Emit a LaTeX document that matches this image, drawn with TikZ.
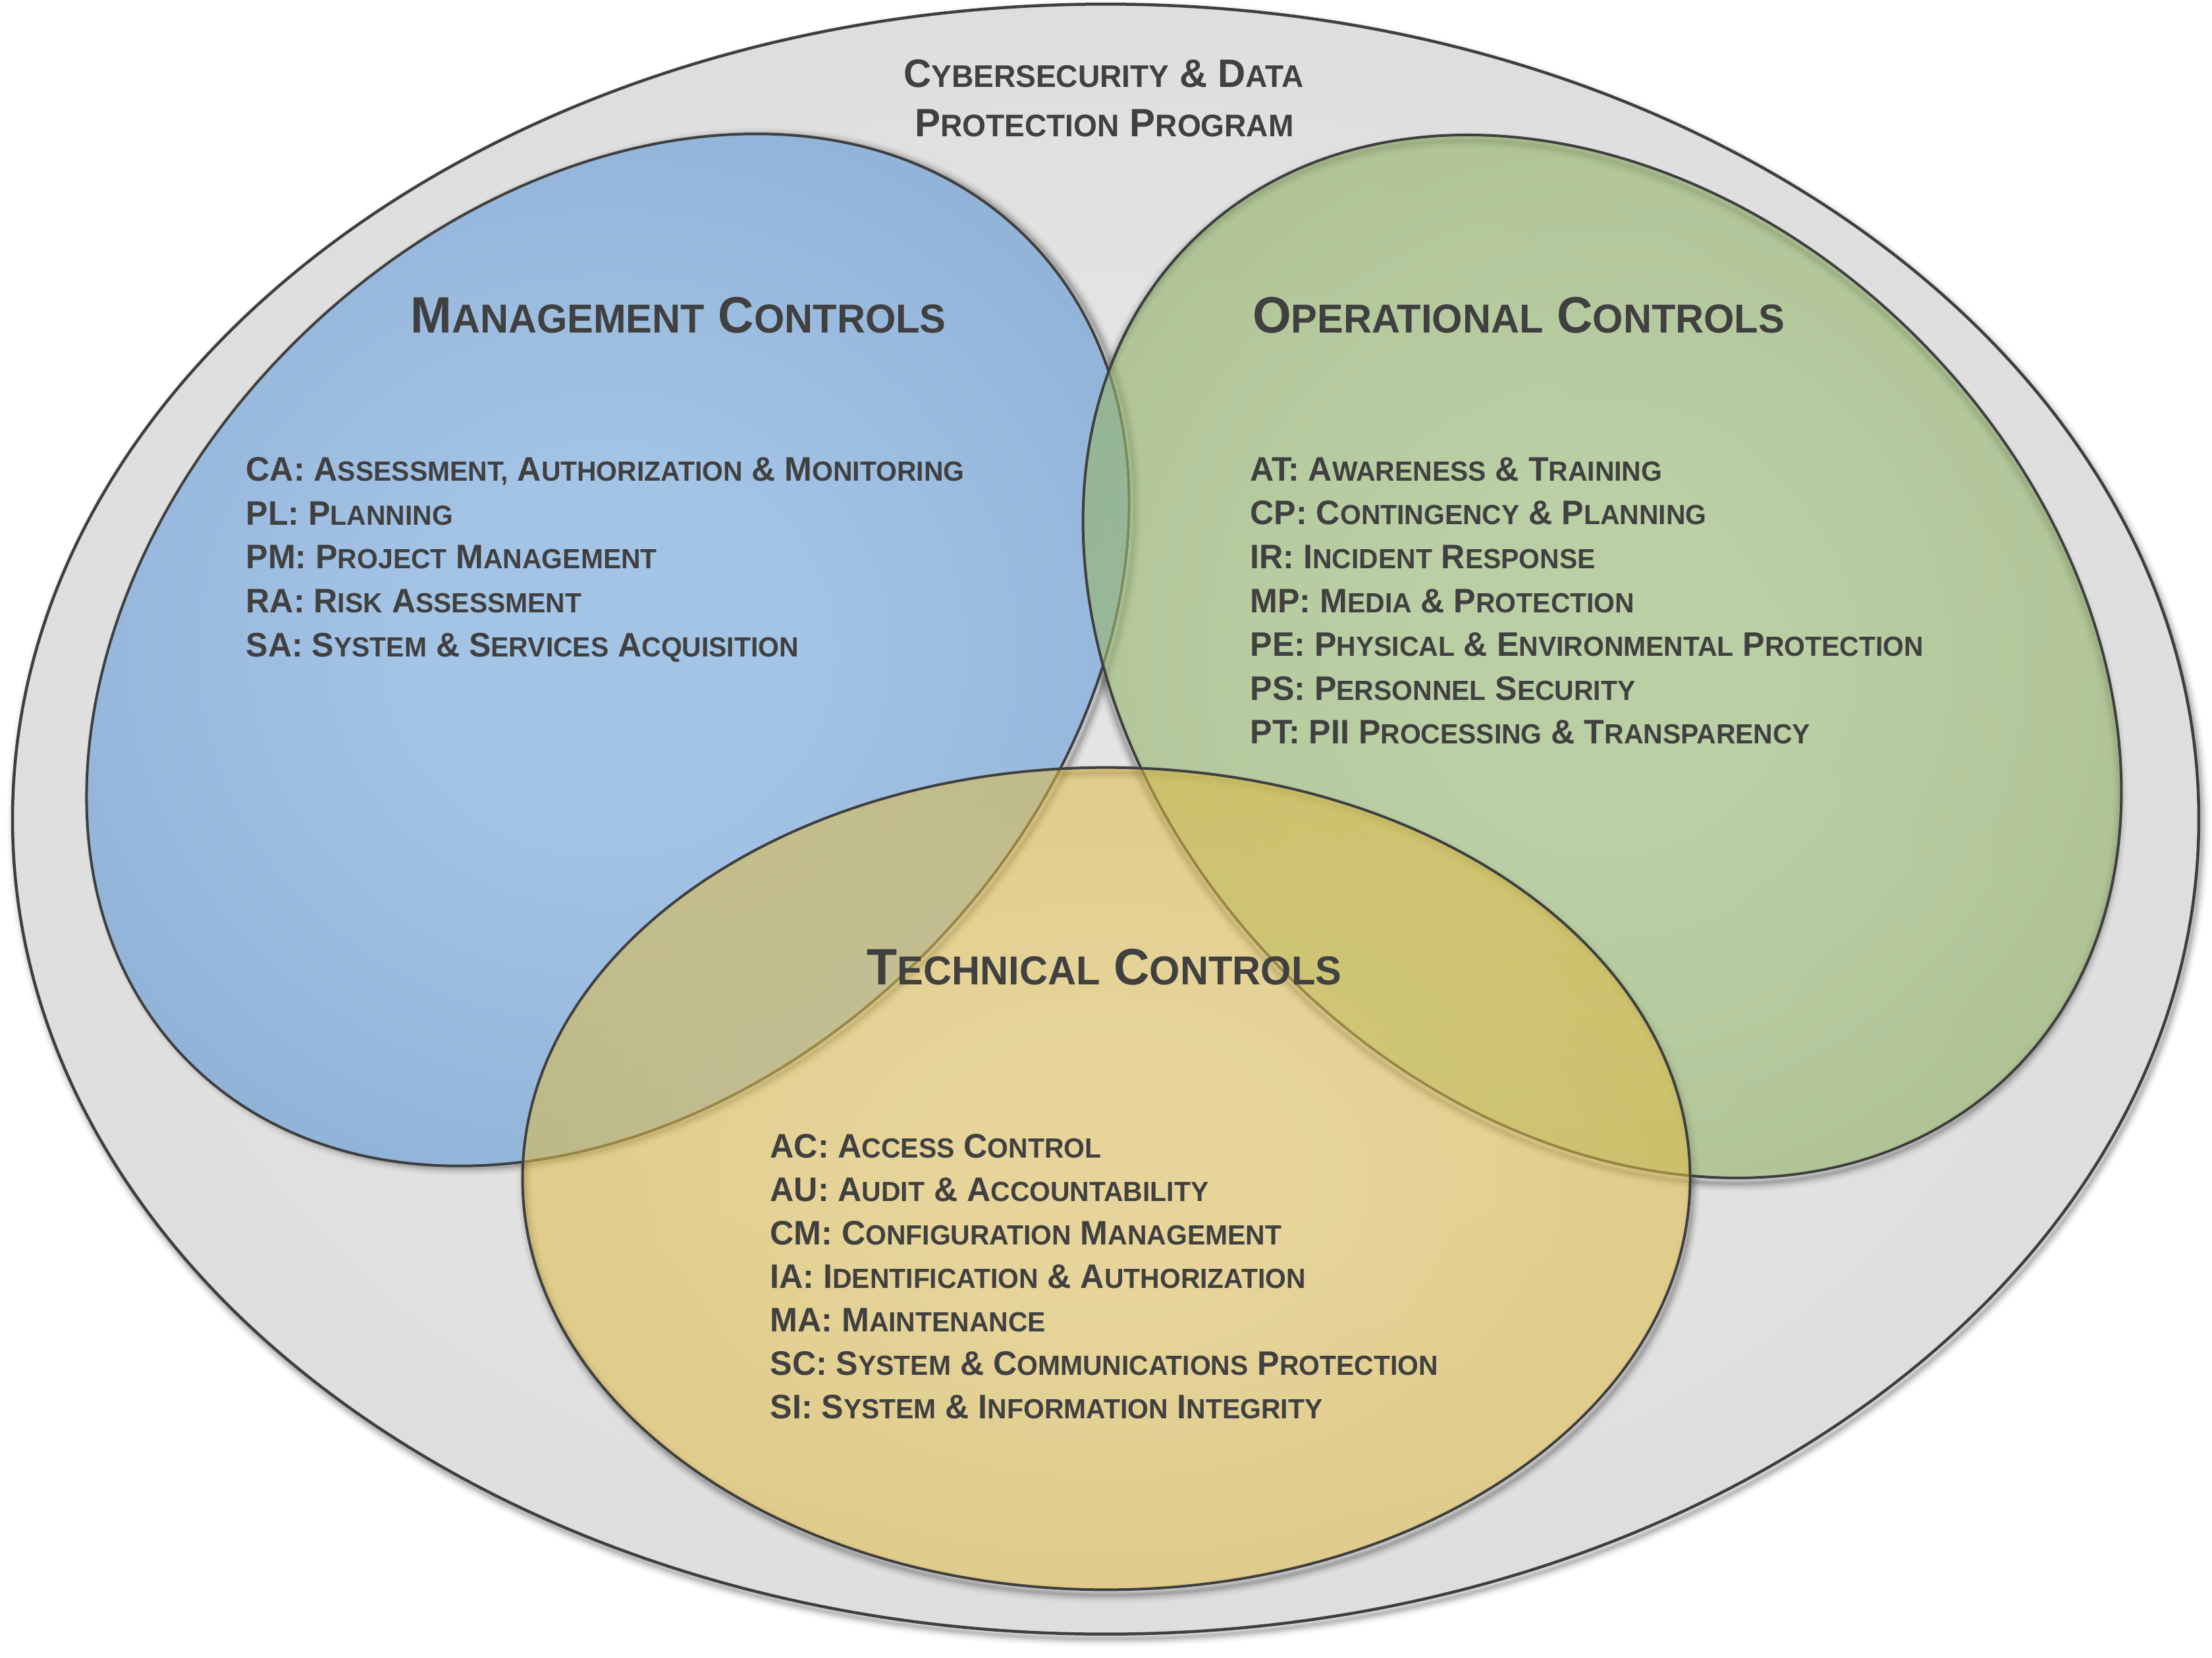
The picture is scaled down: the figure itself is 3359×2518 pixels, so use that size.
\documentclass[tikz,border=0pt]{standalone}
\usepackage{fontspec}
\setmainfont{Liberation Sans}[FakeStretch=0.97]
\makeatletter
\newcommand\scr{0.79}
\newcommand\scsmall{\fontsize{\fpeval{\scr*\f@size}}{\f@baselineskip}\selectfont}
\makeatother
\def\w#1{\wi#1\relax}
\def\wi#1#2\relax{#1{\scsmall\MakeUppercase{#2}}}
\definecolor{txtgrey}{HTML}{404040}
\definecolor{linegrey}{HTML}{3F3F3F}
\definecolor{outc}{HTML}{E4E4E4}
\definecolor{oute}{HTML}{D0D0D0}
\definecolor{bluec}{HTML}{A4C4E6}
\definecolor{bluee}{HTML}{7DA1C9}
\definecolor{greenc}{HTML}{A4C482}
\definecolor{greene}{HTML}{82A054}
\definecolor{yelc}{HTML}{E8C85E}
\definecolor{yele}{HTML}{D4AA24}
\pgfdeclareradialshading{outershade}{\pgfpointorigin}{color(0bp)=(outc); color(14bp)=(outc); color(50bp)=(oute)}
\pgfdeclareradialshading{blueshade}{\pgfpointorigin}{color(0bp)=(bluec); color(8bp)=(bluec); color(46bp)=(bluee); color(50bp)=(bluee)}
\pgfdeclareradialshading{greenshade}{\pgfpointorigin}{color(0bp)=(greenc); color(8bp)=(greenc); color(46bp)=(greene); color(50bp)=(greene)}
\pgfdeclareradialshading{yelshade}{\pgfpointorigin}{color(0bp)=(yelc); color(8bp)=(yelc); color(48bp)=(yele); color(50bp)=(yele)}
\begin{document}
\begin{tikzpicture}[x=0.01cm,y=-0.01cm,
  outline/.style={draw=linegrey, line width=0.04cm},
  item/.style={anchor=base west, inner sep=0pt, text=txtgrey,
    font=\fontsize{14.7}{18}\selectfont\bfseries\renewcommand\scr{0.815}},
  head/.style={anchor=base, inner sep=0pt, text=txtgrey,
    font=\fontsize{22.1}{26}\selectfont\bfseries},
  ttl/.style={anchor=base, inner sep=0pt, text=txtgrey,
    font=\fontsize{17.1}{21}\selectfont\bfseries}]
\fill[white] (0,0) rectangle (3359,2518);
\useasboundingbox (0,0) rectangle (3359,2518);

\coordinate (oc) at (1679,1244);
\coordinate (bc) at (923,987);
\coordinate (gc) at (2433,997);
\coordinate (yc) at (1680,1790);

% soft shadows
\foreach \k/\o in {1/0.10,2/0.07,3/0.05,4/0.03,5/0.02}{
  \draw[draw=black, draw opacity=\o, line width={0.05cm*\k}]
    ([shift={(4,7)}]oc) ellipse [x radius=16.59cm, y radius=12.37cm];
}
% outer ellipse
\shade[shading=outershade] (oc) ellipse [x radius=16.59cm, y radius=12.37cm];
\draw[outline, line width=0.045cm] (oc) ellipse [x radius=16.59cm, y radius=12.37cm];

% inner shadows
\foreach \k/\o in {1/0.10,2/0.07,3/0.05,4/0.03,5/0.02}{
  \draw[draw=black, draw opacity=\o, line width={0.05cm*\k}, rotate around={44.0:([shift={(4,8)}]bc)}]
    ([shift={(4,8)}]bc) ellipse [x radius=8.92cm, y radius=6.66cm];
  \draw[draw=black, draw opacity=\o, line width={0.05cm*\k}, rotate around={-45.5:([shift={(4,8)}]gc)}]
    ([shift={(4,8)}]gc) ellipse [x radius=8.86cm, y radius=6.80cm];
  \draw[draw=black, draw opacity=\o, line width={0.05cm*\k}]
    ([shift={(4,8)}]yc) ellipse [x radius=8.86cm, y radius=6.24cm];
}

% blue (management)
\shade[shading=blueshade, rotate around={44.0:(bc)}] (bc) ellipse [x radius=8.92cm, y radius=6.66cm];
\draw[outline, rotate around={44.0:(bc)}] (bc) ellipse [x radius=8.92cm, y radius=6.66cm];

% green (operational)
\shade[shading=greenshade, fill opacity=0.64, rotate around={-45.5:(gc)}] (gc) ellipse [x radius=8.86cm, y radius=6.80cm];
\draw[outline, rotate around={-45.5:(gc)}] (gc) ellipse [x radius=8.86cm, y radius=6.80cm];

% yellow (technical)
\shade[shading=yelshade, fill opacity=0.55] (yc) ellipse [x radius=8.86cm, y radius=6.24cm];
\draw[outline] (yc) ellipse [x radius=8.86cm, y radius=6.24cm];

% title
\node[ttl] (t1) at (1676,132) {\w{Cybersecurity} \& \w{Data}};
\node[ttl] (t2) at (1677,207) {\w{Protection} \w{Program}};

% headings
\node[head] (mgmt) at (1030,505) {\w{Management} \w{Controls}};
\node[head] (oper) at (2306,505) {\w{Operational} \w{Controls}};
\node[head] (tech) at (1677,1495) {\w{Technical} \w{Controls}};

% management list
\node[item] (ca) at (373,730) {CA: \w{Assessment,} \w{Authorization} \& \w{Monitoring}};
\node[item] (pl) at (373,797) {PL: \w{Planning}};
\node[item] (pm) at (373,863) {PM: \w{Project} \w{Management}};
\node[item] (ra) at (373,930) {RA: \w{Risk} \w{Assessment}};
\node[item] (sa) at (373,997) {SA: \w{System} \& \w{Services} \w{Acquisition}};

% operational list
\node[item] (at) at (1898,730) {AT: \w{Awareness} \& \w{Training}};
\node[item] (cp) at (1898,796) {CP: \w{Contingency} \& \w{Planning}};
\node[item] (ir) at (1898,863) {IR: \w{Incident} \w{Response}};
\node[item] (mp) at (1898,930) {MP: \w{Media} \& \w{Protection}};
\node[item] (pe) at (1898,996) {PE: \w{Physical} \& \w{Environmental} \w{Protection}};
\node[item] (ps) at (1898,1063) {PS: \w{Personnel} \w{Security}};
\node[item] (pt) at (1898,1129) {PT: PII \w{Processing} \& \w{Transparency}};

% technical list
\node[item] (ac) at (1169,1758) {AC: \w{Access} \w{Control}};
\node[item] (au) at (1169,1824) {AU: \w{Audit} \& \w{Accountability}};
\node[item] (cm) at (1169,1890) {CM: \w{Configuration} \w{Management}};
\node[item] (ia) at (1169,1956) {IA: \w{Identification} \& \w{Authorization}};
\node[item] (ma) at (1169,2022) {MA: \w{Maintenance}};
\node[item] (sc) at (1169,2088) {SC: \w{System} \& \w{Communications} \w{Protection}};
\node[item] (si) at (1169,2154) {SI: \w{System} \& \w{Information} \w{Integrity}};
\end{tikzpicture}
\end{document}
